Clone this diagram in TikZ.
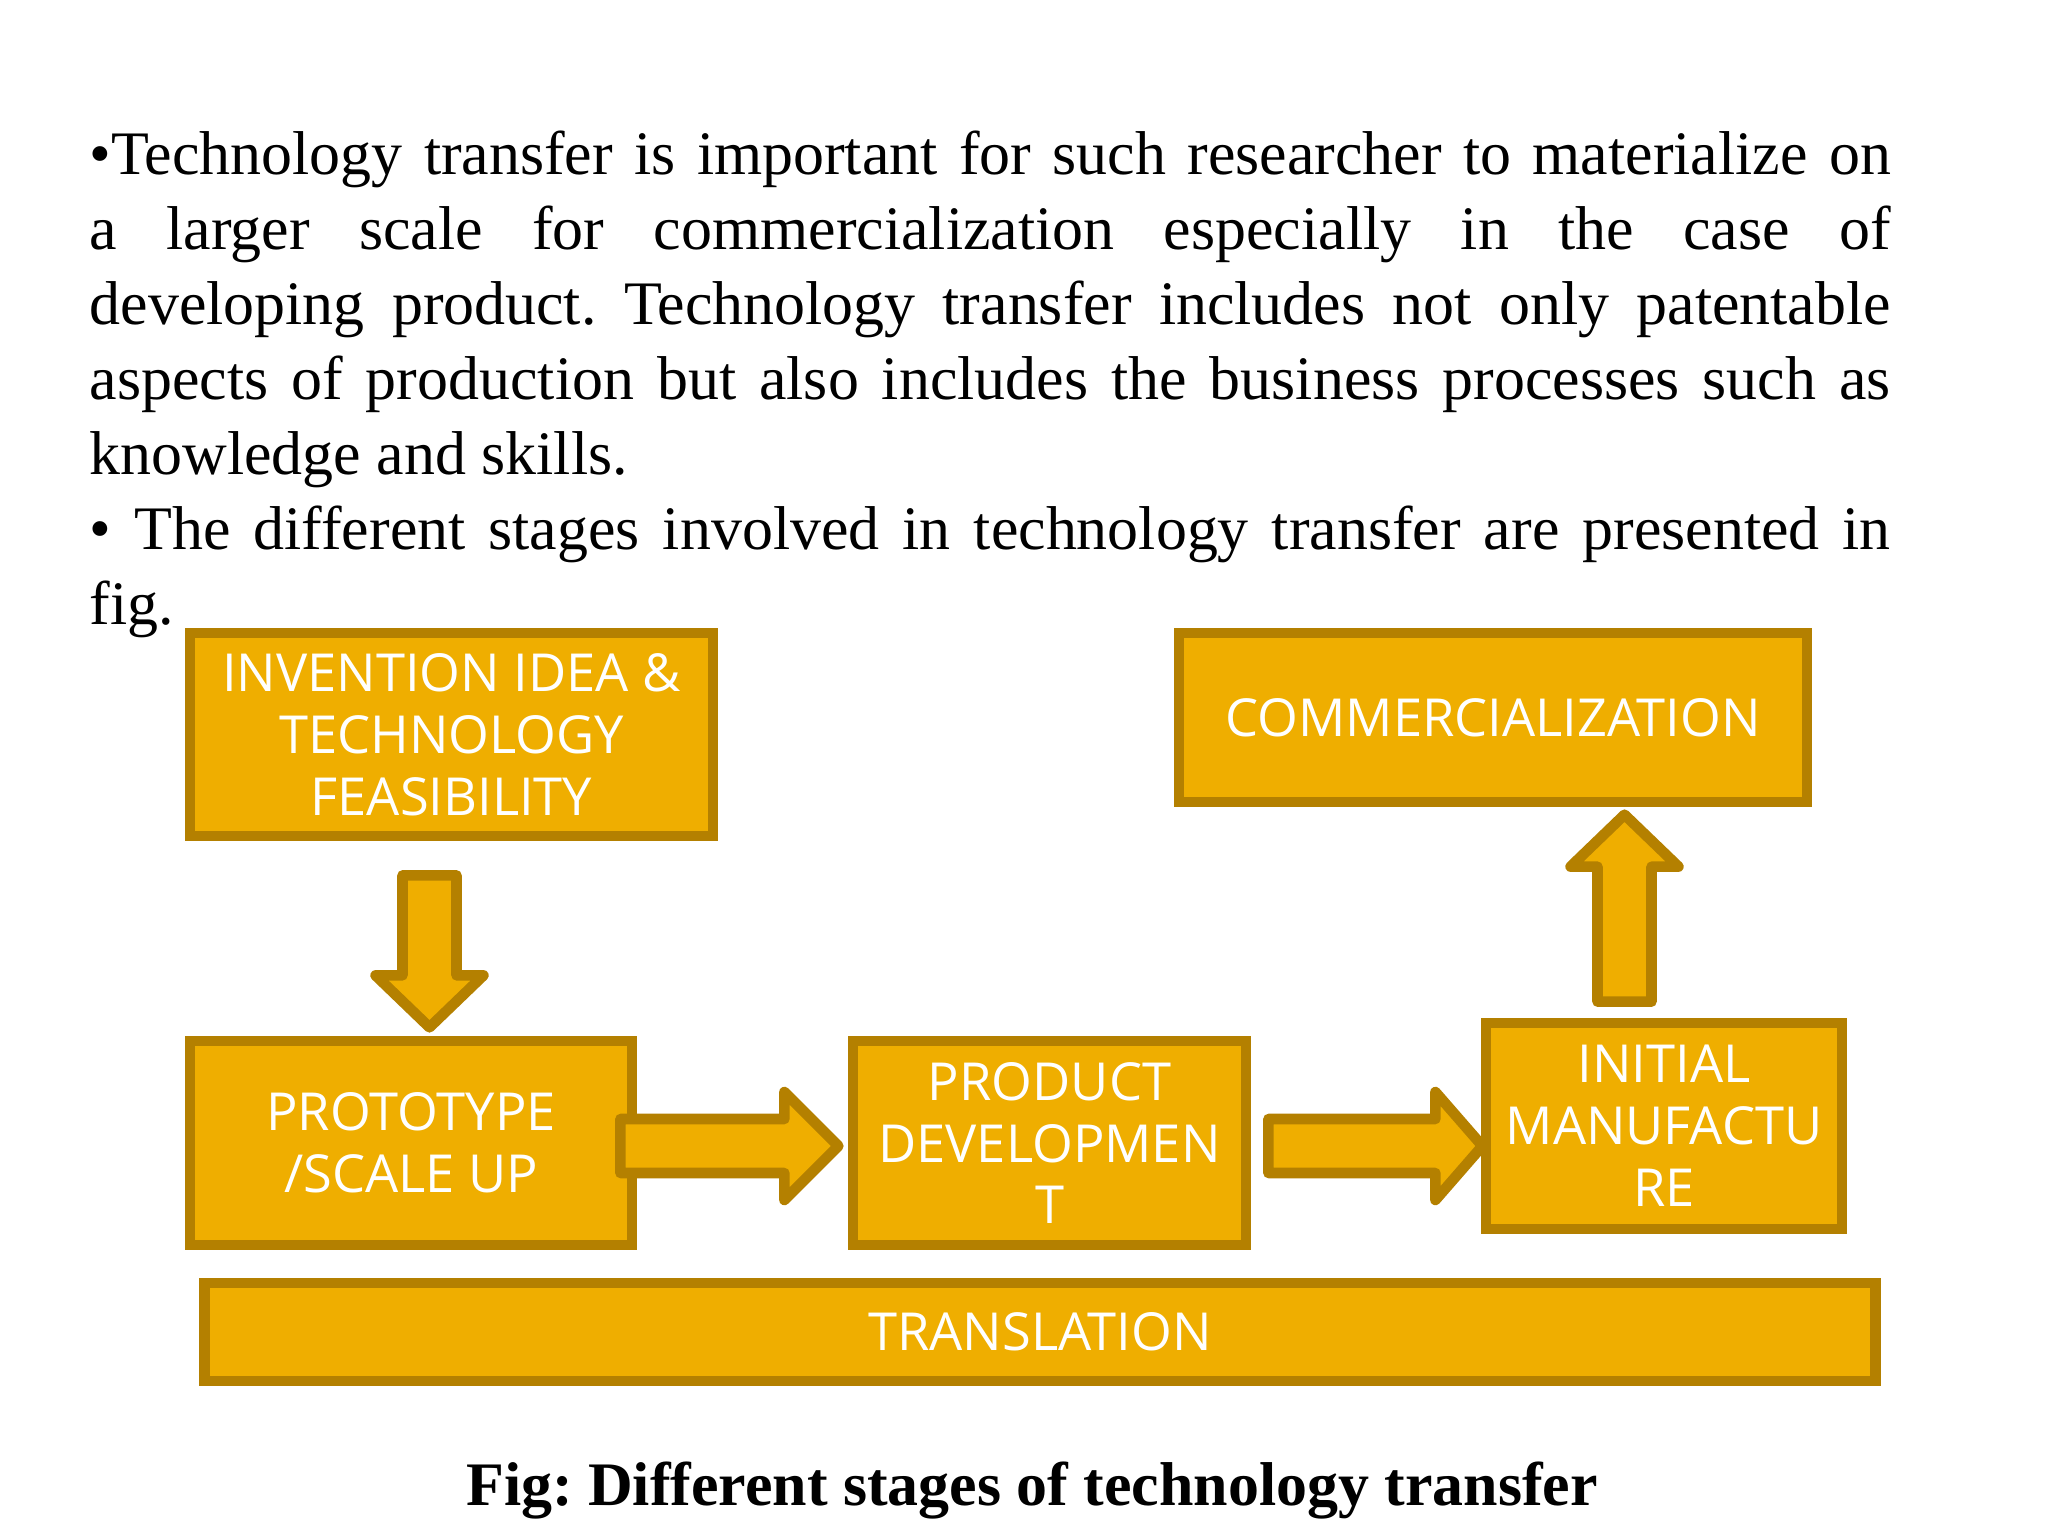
\documentclass[tikz,border=0pt]{standalone}
\usepackage{fontspec}
\setmainfont{Liberation Serif}
\newfontfamily\boxfont{Open Sans}
\usetikzlibrary{calc}
\definecolor{stagefill}{RGB}{239,174,0}
\definecolor{stageedge}{RGB}{180,128,0}
\frenchspacing

\begin{document}
\begin{tikzpicture}[x=0.01cm, y=-0.01cm,
                   stage/.style = {shape=rectangle, draw=stageedge,
                   fill=stagefill, line width=3pt, inner sep=0pt,
                   align=center, text=white,
                   font=\boxfont\fontsize{14.9}{17.6}\selectfont},
                   stagearrow/.style = {draw=stageedge, fill=stagefill,
                   line width=3pt, line join=round},
                   bodytext/.style = {inner sep=0pt, text width=18cm,
                   align=justify, font=\fontsize{17.6}{21.34}\selectfont},
                   caption/.style = {inner sep=0pt,
                   font=\bfseries\fontsize{17.6}{21}\selectfont}]
  \path[use as bounding box, fill=white] (0,0) rectangle (2048,1536);

  \node[bodytext, anchor=base west] (intro) at (89,174)
    {•Technology transfer is important for such researcher to materialize on\linebreak
     a larger scale for commercialization especially in the case of\linebreak
     developing product. Technology transfer includes not only patentable\linebreak
     aspects of production but also includes the business processes such as\linebreak
     knowledge and skills.\\
     • The different stages involved in technology transfer are presented in\linebreak
     fig.};

  % stages
  \node[stage, minimum width=5.23cm, minimum height=2.03cm] (inv) at (451.5,734.5)
    {INVENTION IDEA \&\\ TECHNOLOGY\\ FEASIBILITY};
  \node[stage, minimum width=6.28cm, minimum height=1.69cm] (comm) at (1493,717.5)
    {COMMERCIALIZATION};
  \node[stage, minimum width=4.42cm, minimum height=2.04cm] (proto) at (411,1143)
    {PROTOTYPE\\ /SCALE UP};
  \node[stage, minimum width=3.93cm, minimum height=2.04cm] (prod) at (1049.5,1143)
    {PRODUCT\\ DEVELOPMEN\\ T};
  \node[stage, minimum width=3.56cm, minimum height=2.06cm] (init) at (1664,1126)
    {INITIAL\\ MANUFACTU\\ RE};
  \node[stage, minimum width=16.70cm, minimum height=0.98cm] (trans) at (1040,1332)
    {TRANSLATION};

  % block arrows
  \draw[stagearrow] ($(inv.south)+(-22,34)$) -- ++(27,0) -- ++(0,100) -- ++(27,0)
    -- ++(-54,52) -- ++(-54,-52) -- ++(27,0) -- ++(0,-100) -- cycle;
  \draw[stagearrow] ($(proto.east)+(-17,3)$) -- ++(0,-27) -- ++(164,0) -- ++(0,-27)
    -- ++(54,54) -- ++(-54,54) -- ++(0,-27) -- ++(-164,0) -- cycle;
  \draw[stagearrow] ($(prod.east)+(17,3)$) -- ++(0,-27) -- ++(167,0) -- ++(0,-27)
    -- ++(47,54) -- ++(-47,54) -- ++(0,-27) -- ++(-167,0) -- cycle;
  \draw[stagearrow] ($(init.north)+(-39.5,-16)$) -- ++(27,0) -- ++(0,-135) -- ++(27,0)
    -- ++(-54,-52) -- ++(-54,52) -- ++(27,0) -- ++(0,135) -- cycle;

  \node[caption, anchor=base] (cap) at (1032,1505)
    {Fig: Different stages of technology transfer};
\end{tikzpicture}
\end{document}
